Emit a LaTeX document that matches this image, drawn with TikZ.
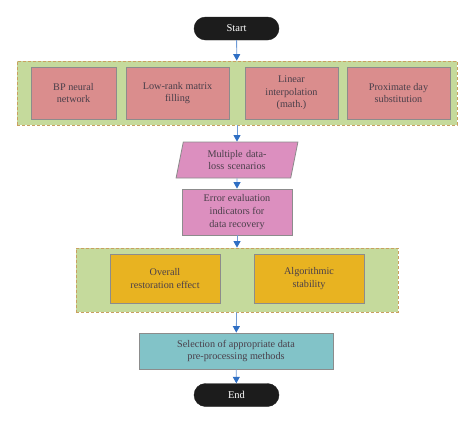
\documentclass[tikz,border=0pt]{standalone}
\usepackage{fontspec}
\setmainfont{Liberation Serif}
\usetikzlibrary{arrows.meta,shapes.geometric}
\definecolor{termfill}{HTML}{1C1C1C}
\definecolor{groupfill}{HTML}{C5DA9C}
\definecolor{groupborder}{HTML}{C9A060}
\definecolor{redfill}{HTML}{DA8D8D}
\definecolor{pinkfill}{HTML}{DC8FBF}
\definecolor{orangefill}{HTML}{E8B321}
\definecolor{tealfill}{HTML}{82C3C8}
\definecolor{boxborder}{HTML}{8C8C8C}
\definecolor{txt}{HTML}{4A3F4A}
\definecolor{arrowblue}{HTML}{2F6FC4}
\tikzset{
  terminal/.style={rectangle, rounded corners=11.5pt, fill=termfill, draw=termfill, text=white, minimum width=85pt, minimum height=23pt, inner sep=0pt, font=\fontsize{10.5}{12}\selectfont},
  group/.style={draw=groupborder, dash pattern=on 3pt off 2pt, fill=groupfill, line width=0.8pt},
  boxtext/.style={text=txt, align=center, inner sep=0pt, font=\fontsize{10.2}{12.6}\selectfont},
  redbox/.style={rectangle, fill=redfill, draw=boxborder, line width=0.8pt, boxtext},
  pinkpar/.style={trapezium, trapezium left angle=73, trapezium right angle=107, fill=pinkfill, draw=boxborder, line width=0.8pt, boxtext, minimum height=36pt, text width=90pt, trapezium stretches=true, minimum width=122pt},
  pinkbox/.style={rectangle, fill=pinkfill, draw=boxborder, line width=0.8pt, boxtext},
  orangebox/.style={rectangle, fill=orangefill, draw=boxborder, line width=0.8pt, boxtext},
  tealbox/.style={rectangle, fill=tealfill, draw=boxborder, line width=0.8pt, boxtext},
  flow/.style={draw=arrowblue!70, line width=0.8pt, -{Triangle[width=7pt,length=6.5pt,fill=arrowblue,color=arrowblue]}},
}
\begin{document}
\begin{tikzpicture}[x=1pt,y=-1pt]
\useasboundingbox (0,0) rectangle (474,424);
% start
\node[terminal] (start) at (236.5,28.5) {Start};
% top group
\node[group, rectangle, minimum width=440pt, minimum height=64pt, inner sep=0pt] (g1) at (237,93) {};
\node[redbox, minimum width=85pt, minimum height=52pt] (bp) at (73.5,93) {BP neural\\network};
\node[redbox, minimum width=103pt, minimum height=52pt] (lr) at (177.5,93) {Low-rank matrix\\filling};
\node[redbox, minimum width=93pt, minimum height=52pt] (li) at (291.5,93) {Linear\\interpolation\\(math.)};
\node[redbox, minimum width=103pt, minimum height=52pt] (pd) at (398.5,93) {Proximate day\\substitution};
% parallelogram
\node[pinkpar] (ms) at (237,160) {Multiple data-\\loss scenarios};
% error box
\node[pinkbox, minimum width=110pt, minimum height=46pt] (ee) at (237,212) {Error evaluation\\indicators for\\data recovery};
% lower group
\node[group, rectangle, minimum width=322pt, minimum height=64pt, inner sep=0pt] (g2) at (237,280) {};
\node[orangebox, minimum width=110pt, minimum height=49pt] (ov) at (165,278.5) {Overall\\restoration effect};
\node[orangebox, minimum width=110pt, minimum height=49pt] (al) at (309,278.5) {Algorithmic\\stability};
% teal
\node[tealbox, minimum width=194pt, minimum height=36pt] (sel) at (236,351) {Selection of appropriate data\\pre-processing methods};
% end
\node[terminal] (end) at (236.5,395) {End};
% arrows
\draw[flow] (start) -- (g1);
\draw[flow] (g1) -- (ms);
\draw[flow] (ms) -- (ee);
\draw[flow] (ee) -- (g2);
\draw[flow] (g2) -- (sel);
\draw[flow] (sel) -- (end);
\end{tikzpicture}
\end{document}
